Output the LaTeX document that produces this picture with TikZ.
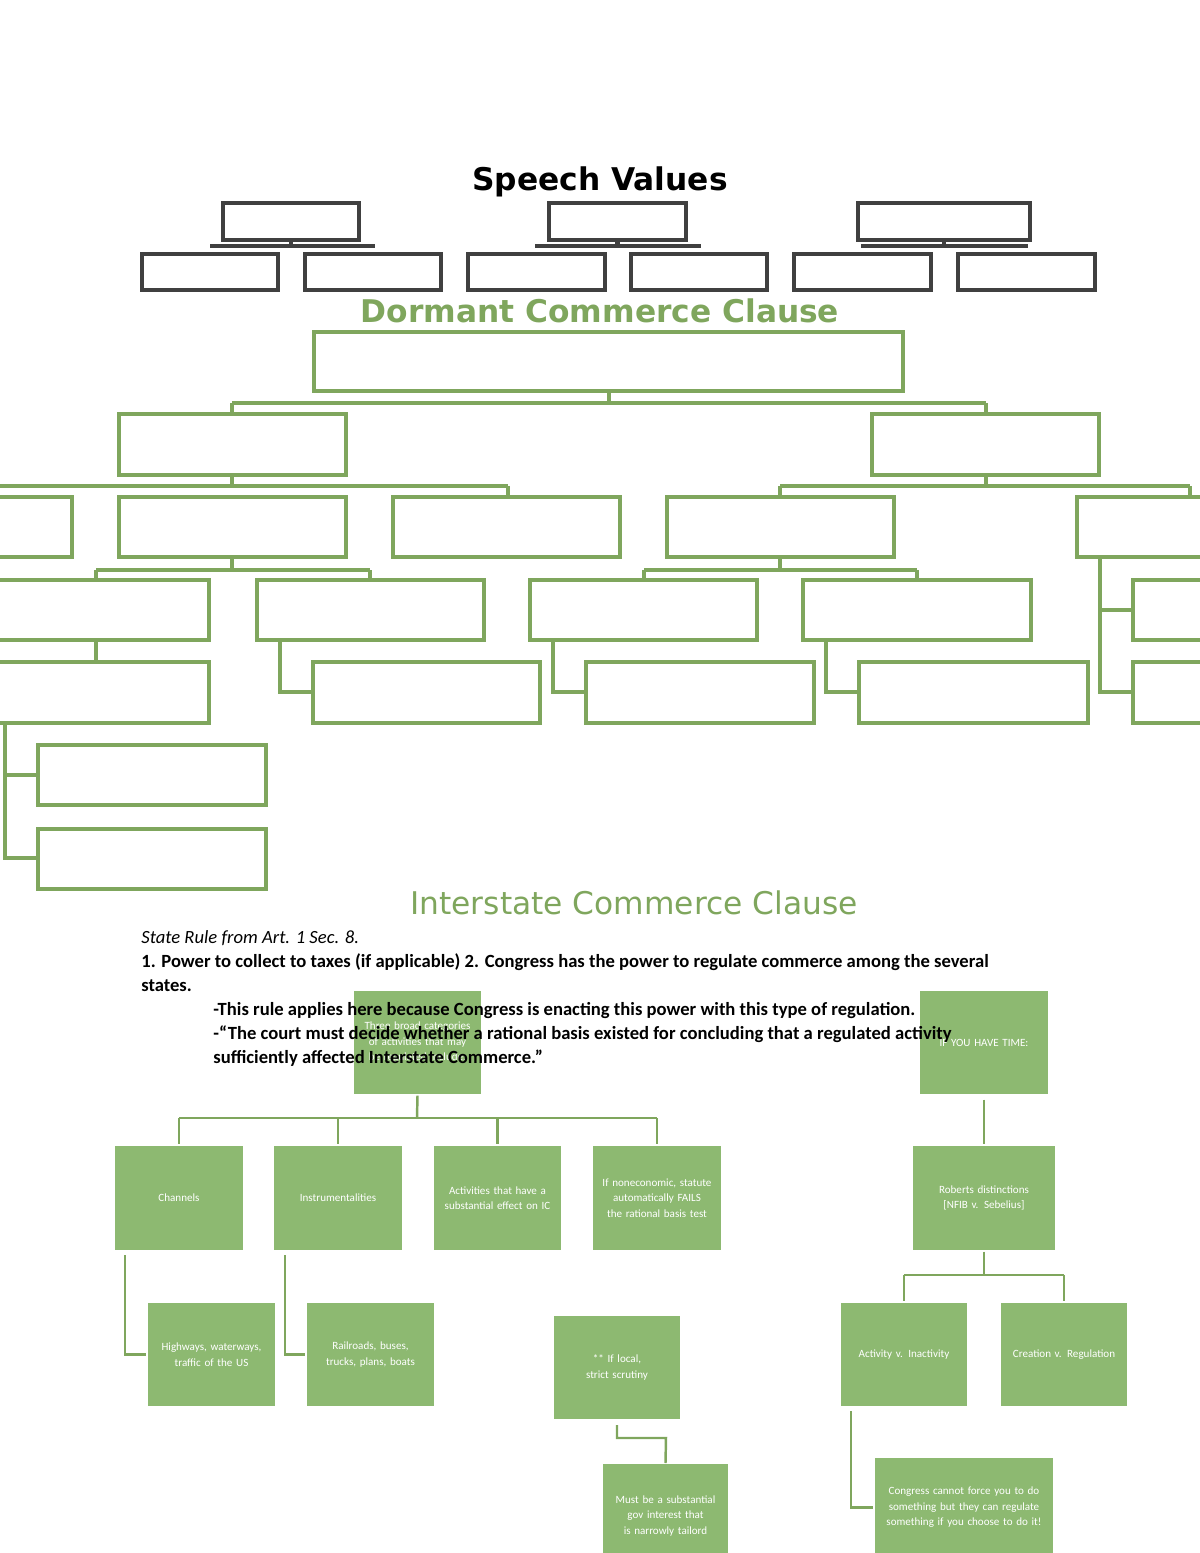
\documentclass[tikz,border=0pt]{standalone}
\usepackage{fontspec}
\setmainfont{Carlito}
\newfontfamily\dejavu{DejaVu Sans}
\definecolor{gline}{HTML}{7FA65D}
\definecolor{gfill}{HTML}{8DB971}
\definecolor{dgray}{HTML}{404040}
\hyphenpenalty=10000
\exhyphenpenalty=10000
\begin{document}
\begin{tikzpicture}[x=0.02cm,y=-0.02cm,
  sv/.style={draw=dgray,line width=2.3pt},
  dc/.style={draw=gline,line width=2.3pt},
  gb/.style={fill=gfill,draw=white,line width=0.6pt},
  gl/.style={draw=gline,line width=1.4pt},
  gt/.style={text=white,font=\fontsize{6.3}{8.8}\selectfont,align=center,text width=2.2cm}]
\useasboundingbox (0,0) rectangle (1200,1553);
\clip (0,0) rectangle (1200,1553);
% Speech Values
\node (svt) at (600,182) {\dejavu\bfseries\fontsize{17.8}{20}\selectfont Speech Values};
\foreach \a/\b/\c/\d/\e/\f/\g/\h/\n in {223/359/142/278/305/441/210/375/a,549/686/468/605/631/767/535/701/b,858/1030/794/931/958/1095/861/1028/c}{
  \draw[sv] (\a,203) rectangle (\b,240);
  \draw[sv] (\c,254) rectangle (\d,290);
  \draw[sv] (\e,254) rectangle (\f,290);
  \draw[sv] (\g,246) -- (\h,246);
  \draw[sv] ({(\a+\b)/2},240) -- ({(\a+\b)/2},246);
}
% Dormant
\node (dct) at (600,311) {\dejavu\bfseries\fontsize{17.8}{20}\selectfont\color{gline}Dormant Commerce Clause};
\draw[dc] (314,332) rectangle (903,391);
\draw[dc] (609,391) -- (609,403) (232,403) -- (986,403) (232,403) -- (232,414) (986,403) -- (986,414);
\draw[dc] (119,414) rectangle (346,475);
\draw[dc] (872,414) rectangle (1099,475);
\draw[dc] (232,475) -- (232,486) (-5,486) -- (508,486) (508,486) -- (508,497);
\draw[dc] (986,475) -- (986,486) (780,486) -- (1190,486) (780,486) -- (780,497) (1190,486) -- (1190,497);
\draw[dc] (-10,497) rectangle (72,557);
\draw[dc] (119,497) rectangle (346,557);
\draw[dc] (393,497) rectangle (620,557);
\draw[dc] (667,497) rectangle (894,557);
\draw[dc] (1077,497) rectangle (1210,557);
\draw[dc] (232,557) -- (232,570) (96,570) -- (370,570) (96,570) -- (96,580) (370,570) -- (370,580);
\draw[dc] (780,557) -- (780,570) (644,570) -- (917,570) (644,570) -- (644,580) (917,570) -- (917,580);
\draw[dc] (-10,580) rectangle (209,640);
\draw[dc] (257,580) rectangle (484,640);
\draw[dc] (530,580) rectangle (757,640);
\draw[dc] (803,580) rectangle (1031,640);
\draw[dc] (96,640) -- (96,662);
\draw[dc] (-10,662) rectangle (209,723);
\draw[dc] (5,723) -- (5,858) -- (38,858) (5,775) -- (38,775);
\draw[dc] (38,745) rectangle (266,805);
\draw[dc] (38,829) rectangle (266,889);
\draw[dc] (280,640) -- (280,692) -- (313,692);
\draw[dc] (313,662) rectangle (540,723);
\draw[dc] (553,640) -- (553,692) -- (586,692);
\draw[dc] (586,662) rectangle (814,723);
\draw[dc] (826,640) -- (826,692) -- (859,692);
\draw[dc] (859,662) rectangle (1088,723);
\draw[dc] (1100,557) -- (1100,692) -- (1133,692) (1100,610) -- (1133,610);
\draw[dc] (1133,580) rectangle (1210,640);
\draw[dc] (1133,662) rectangle (1210,723);
% Interstate
\node (ict) at (634,903) {\dejavu\fontsize{17.8}{20}\selectfont\color{gline}Interstate Commerce Clause};
% green boxes
\node[gb,minimum width=129*0.02cm,minimum height=105*0.02cm,gt] (A) at (417.5,1042.5) {Three broad categories of activities that may be regulated include:};
\node[gb,minimum width=129*0.02cm,minimum height=105*0.02cm,gt] (B) at (984,1042.5) {IF YOU HAVE TIME:};
\foreach \x/\n/\t in {179/c1/Channels,338/c2/Instrumentalities,497.5/c3/{Activities that have a substantial effect on IC},657/c4/{If noneconomic, statute automatically FAILS the rational basis test}}{
  \node[gb,minimum width=129*0.02cm,minimum height=106*0.02cm,gt] (\n) at (\x,1198) {\t};
  \draw[gl] (\x,1118) -- (\n.north);
}
\draw[gl] (A.south) -- (417,1118);
\draw[gl] (179,1118) -- (657,1118);
\node[gb,minimum width=129*0.02cm,minimum height=105*0.02cm,gt] (h1) at (211.5,1354.5) {Highways, waterways, traffic of the US};
\node[gb,minimum width=129*0.02cm,minimum height=105*0.02cm,gt] (h2) at (370.5,1354.5) {Railroads, buses, trucks, plans, boats};
\draw[gl] (125,1255) |- (h1.west);
\draw[gl] (285,1255) |- (h2.west);
\node[gb,minimum width=128*0.02cm,minimum height=105*0.02cm,gt] (sl) at (617,1367.5) {** If local, strict scrutiny};
\node[gb,minimum width=127*0.02cm,minimum height=105*0.02cm,gt,anchor=north] (mb) at (665.5,1463) {Must be a substantial gov interest that is narrowly tailord};
\draw[gl] (617,1425) -- (617,1438) -- (666,1438) -- (mb.north);
\node[gb,minimum width=144*0.02cm,minimum height=106*0.02cm,gt,text width=2.6cm] (rd) at (984,1198) {Roberts distinctions [NFIB v. Sebelius]};
\draw[gl] (B.south) ++(0,4) -- (rd.north);
\node[gb,minimum width=128*0.02cm,minimum height=105*0.02cm,gt] (av) at (904,1354.5) {Activity v. Inactivity};
\node[gb,minimum width=128*0.02cm,minimum height=105*0.02cm,gt] (cr) at (1064,1354.5) {Creation v. Regulation};
\draw[gl] (rd.south) -- (984,1275) (904,1275) -- (1064,1275) (904,1275) -- (av.north) (1064,1275) -- (cr.north);
\node[gb,minimum width=180*0.02cm,minimum height=100*0.02cm,gt,text width=3.3cm,anchor=north] (cg) at (964,1457) {Congress cannot force you to do something but they can regulate something if you choose to do it!};
\draw[gl] (851,1411) |- (cg.west);
% text block
\begin{scope}[every node/.style={anchor=base west,inner sep=0pt,font=\fontsize{10.6}{12}\selectfont}]
\node (t1) at (141,943) {\itshape State Rule from Art. 1 Sec. 8.};
\node (t2) at (141,967) {\bfseries 1. Power to collect to taxes (if applicable) 2. Congress has the power to regulate commerce among the several};
\node (t3) at (141,991) {\bfseries states.};
\node (t4) at (213,1015) {\bfseries -This rule applies here because Congress is enacting this power with this type of regulation.};
\node (t5) at (213,1039) {\bfseries -“The court must decide whether a rational basis existed for concluding that a regulated activity};
\node (t6) at (213,1063) {\bfseries sufficiently affected Interstate Commerce.”};
\end{scope}
\end{tikzpicture}
\end{document}
